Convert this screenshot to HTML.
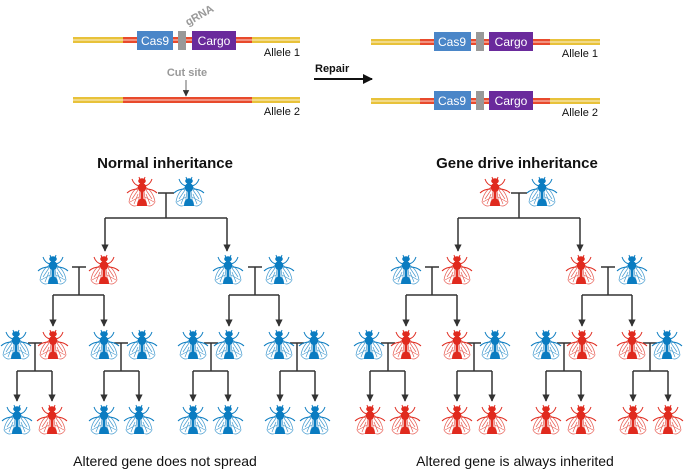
<!DOCTYPE html>
<html><head><meta charset="utf-8"><style>
html,body{margin:0;padding:0;background:#fff;}
svg{display:block;font-family:"Liberation Sans",Arial,sans-serif;}
</style></head><body>
<svg width="685" height="470" viewBox="0 0 685 470" xmlns="http://www.w3.org/2000/svg">
<defs>
<marker id="ah" viewBox="0 0 10 10" refX="9" refY="5" markerWidth="5" markerHeight="5" orient="auto"><path d="M0,0L10,5L0,10z" fill="#333"/></marker>
<marker id="ah2" viewBox="0 0 10 10" refX="9" refY="5" markerWidth="5" markerHeight="6" orient="auto"><path d="M0,0L10,5L0,10z" fill="#111"/></marker>
<symbol id="fly" viewBox="0 0 32 34">
 <g fill="none" stroke="currentColor" stroke-width="0.7" opacity="0.75">
  <path d="M13,12 C8,14 4,20 3,27 C5,31 9,32 12,30 C13,24 14,18 14,14z"/>
  <path d="M19,12 C24,14 28,20 29,27 C27,31 23,32 20,30 C19,24 18,18 18,14z"/>
  <path d="M12,15 L6,24 M12,19 L8,29 M13,22 L4,27 M20,15 L26,24 M20,19 L24,29 M19,22 L28,27"/>
 </g>
 <g fill="none" stroke="currentColor" stroke-width="1">
  <path d="M13,11 C9,10 7,7 6,4 M19,11 C23,10 25,7 26,4 M12,14 C7,14 3,16 1,18 M20,14 C25,14 29,16 31,18 M13,2 L14,5 M19,2 L18,5"/>
 </g>
 <g fill="currentColor">
  <ellipse cx="16" cy="6" rx="3.8" ry="2.8"/>
  <ellipse cx="16" cy="12.5" rx="4.3" ry="4.5"/>
  <rect x="14.6" y="15" width="2.8" height="9"/>
  <path d="M11,31 C11,26 13,23.5 16,23.5 C19,23.5 21,26 21,31z"/>
 </g>
</symbol>
<symbol id="r" viewBox="0 0 32 34"><use href="#fly" color="#e02a1e"/></symbol>
<symbol id="b" viewBox="0 0 32 34"><use href="#fly" color="#0a7cc1"/></symbol>
</defs>

<g>
 <rect x="73" y="37" width="227" height="6" fill="#e8c23a"/>
 <rect x="123" y="37" width="129" height="6" fill="#e84a2c"/>
 <rect x="73" y="39.5" width="227" height="1" fill="#fff" opacity="0.8"/>
 <rect x="137" y="31" width="36" height="19" fill="#4a86c8"/>
 <rect x="178" y="31" width="8" height="19" fill="#999"/>
 <rect x="192" y="31" width="44" height="19" fill="#6a2a9c"/>
 <text x="155" y="45" font-size="12" fill="#fff" text-anchor="middle">Cas9</text>
 <text x="214" y="45" font-size="12" fill="#fff" text-anchor="middle">Cargo</text>
 <text x="300" y="56" font-size="11" fill="#111" text-anchor="end">Allele 1</text>
 <text x="188" y="26" font-size="11" fill="#999" font-weight="bold" transform="rotate(-30 188 26)">gRNA</text>

 <rect x="73" y="97" width="227" height="6" fill="#e8c23a"/>
 <rect x="123" y="97" width="129" height="6" fill="#e84a2c"/>
 <rect x="73" y="99.5" width="227" height="1" fill="#fff" opacity="0.8"/>
 <text x="300" y="115" font-size="11" fill="#111" text-anchor="end">Allele 2</text>
 <text x="187" y="76" font-size="11" fill="#999" font-weight="bold" text-anchor="middle">Cut site</text>
 <line x1="186" y1="80" x2="186" y2="96" stroke="#888" stroke-width="1.3" marker-end="url(#ah)"/>

 <text x="315" y="72" font-size="11" font-weight="bold" fill="#111">Repair</text>
 <line x1="314" y1="79" x2="372" y2="79" stroke="#111" stroke-width="2" marker-end="url(#ah2)"/>

 <rect x="371" y="39" width="229" height="6" fill="#e8c23a"/>
 <rect x="420" y="39" width="130" height="6" fill="#e84a2c"/>
 <rect x="371" y="41.5" width="229" height="1" fill="#fff" opacity="0.8"/>
 <rect x="434" y="32" width="37" height="19" fill="#4a86c8"/>
 <rect x="476" y="32" width="8" height="19" fill="#999"/>
 <rect x="489" y="32" width="44" height="19" fill="#6a2a9c"/>
 <text x="452" y="46" font-size="12" fill="#fff" text-anchor="middle">Cas9</text>
 <text x="511" y="46" font-size="12" fill="#fff" text-anchor="middle">Cargo</text>
 <text x="598" y="57" font-size="11" fill="#111" text-anchor="end">Allele 1</text>

 <rect x="371" y="98" width="229" height="6" fill="#e8c23a"/>
 <rect x="420" y="98" width="130" height="6" fill="#e84a2c"/>
 <rect x="371" y="100.5" width="229" height="1" fill="#fff" opacity="0.8"/>
 <rect x="434" y="91" width="37" height="19" fill="#4a86c8"/>
 <rect x="476" y="91" width="8" height="19" fill="#999"/>
 <rect x="489" y="91" width="44" height="19" fill="#6a2a9c"/>
 <text x="452" y="105" font-size="12" fill="#fff" text-anchor="middle">Cas9</text>
 <text x="511" y="105" font-size="12" fill="#fff" text-anchor="middle">Cargo</text>
 <text x="598" y="116" font-size="11" fill="#111" text-anchor="end">Allele 2</text>
</g>

<text x="165" y="168" font-size="15" font-weight="bold" text-anchor="middle" fill="#111">Normal inheritance</text>
<text x="517" y="168" font-size="15" font-weight="bold" text-anchor="middle" fill="#111">Gene drive inheritance</text>
<text x="165" y="466" font-size="14" text-anchor="middle" fill="#111">Altered gene does not spread</text>
<text x="515" y="466" font-size="14" text-anchor="middle" fill="#111">Altered gene is always inherited</text>

<g id="tree" fill="none" stroke="#333" stroke-width="1.5">
 <path d="M158,193H174M166,193V218M105,218H227"/>
 <path d="M105,218V251" marker-end="url(#ah)"/>
 <path d="M227,218V251" marker-end="url(#ah)"/>
 <path d="M72,267H86M79,267V295M53,295H104M248,267H262M255,267V295M229,295H279"/>
 <path d="M53,295V326" marker-end="url(#ah)"/>
 <path d="M104,295V326" marker-end="url(#ah)"/>
 <path d="M229,295V326" marker-end="url(#ah)"/>
 <path d="M279,295V326" marker-end="url(#ah)"/>
 <path d="M28,343H42M35,343V371M17,371H52M114,343H128M121,343V371M104,371H139M204,343H218M211,343V371M193,371H228M290,343H304M297,343V371M280,371H315"/>
 <path d="M17,371V401" marker-end="url(#ah)"/>
 <path d="M52,371V401" marker-end="url(#ah)"/>
 <path d="M104,371V401" marker-end="url(#ah)"/>
 <path d="M139,371V401" marker-end="url(#ah)"/>
 <path d="M193,371V401" marker-end="url(#ah)"/>
 <path d="M228,371V401" marker-end="url(#ah)"/>
 <path d="M280,371V401" marker-end="url(#ah)"/>
 <path d="M315,371V401" marker-end="url(#ah)"/>
</g>
<use href="#tree" transform="translate(353,0)"/>

<g>
<use href="#r" x="126" y="175" width="32" height="34"/>
<use href="#b" x="173" y="175" width="32" height="34"/>
<use href="#b" x="37" y="253" width="32" height="34"/>
<use href="#r" x="88" y="253" width="32" height="34"/>
<use href="#b" x="212" y="253" width="32" height="34"/>
<use href="#b" x="263" y="253" width="32" height="34"/>
<use href="#b" x="0" y="328" width="32" height="34"/>
<use href="#r" x="37" y="328" width="32" height="34"/>
<use href="#b" x="88" y="328" width="32" height="34"/>
<use href="#b" x="126" y="328" width="32" height="34"/>
<use href="#b" x="177" y="328" width="32" height="34"/>
<use href="#b" x="213" y="328" width="32" height="34"/>
<use href="#b" x="263" y="328" width="32" height="34"/>
<use href="#b" x="298" y="328" width="32" height="34"/>
<use href="#b" x="1" y="403" width="32" height="34"/>
<use href="#r" x="36" y="403" width="32" height="34"/>
<use href="#b" x="88" y="403" width="32" height="34"/>
<use href="#b" x="123" y="403" width="32" height="34"/>
<use href="#b" x="177" y="403" width="32" height="34"/>
<use href="#b" x="212" y="403" width="32" height="34"/>
<use href="#b" x="264" y="403" width="32" height="34"/>
<use href="#b" x="299" y="403" width="32" height="34"/>
</g>
<g transform="translate(353,0)">
<use href="#r" x="126" y="175" width="32" height="34"/>
<use href="#b" x="173" y="175" width="32" height="34"/>
<use href="#b" x="37" y="253" width="32" height="34"/>
<use href="#r" x="88" y="253" width="32" height="34"/>
<use href="#r" x="212" y="253" width="32" height="34"/>
<use href="#b" x="263" y="253" width="32" height="34"/>
<use href="#b" x="0" y="328" width="32" height="34"/>
<use href="#r" x="37" y="328" width="32" height="34"/>
<use href="#r" x="88" y="328" width="32" height="34"/>
<use href="#b" x="126" y="328" width="32" height="34"/>
<use href="#b" x="177" y="328" width="32" height="34"/>
<use href="#r" x="213" y="328" width="32" height="34"/>
<use href="#r" x="263" y="328" width="32" height="34"/>
<use href="#b" x="298" y="328" width="32" height="34"/>
<use href="#r" x="1" y="403" width="32" height="34"/>
<use href="#r" x="36" y="403" width="32" height="34"/>
<use href="#r" x="88" y="403" width="32" height="34"/>
<use href="#r" x="123" y="403" width="32" height="34"/>
<use href="#r" x="177" y="403" width="32" height="34"/>
<use href="#r" x="212" y="403" width="32" height="34"/>
<use href="#r" x="264" y="403" width="32" height="34"/>
<use href="#r" x="299" y="403" width="32" height="34"/>
</g>
</svg>
</body></html>
